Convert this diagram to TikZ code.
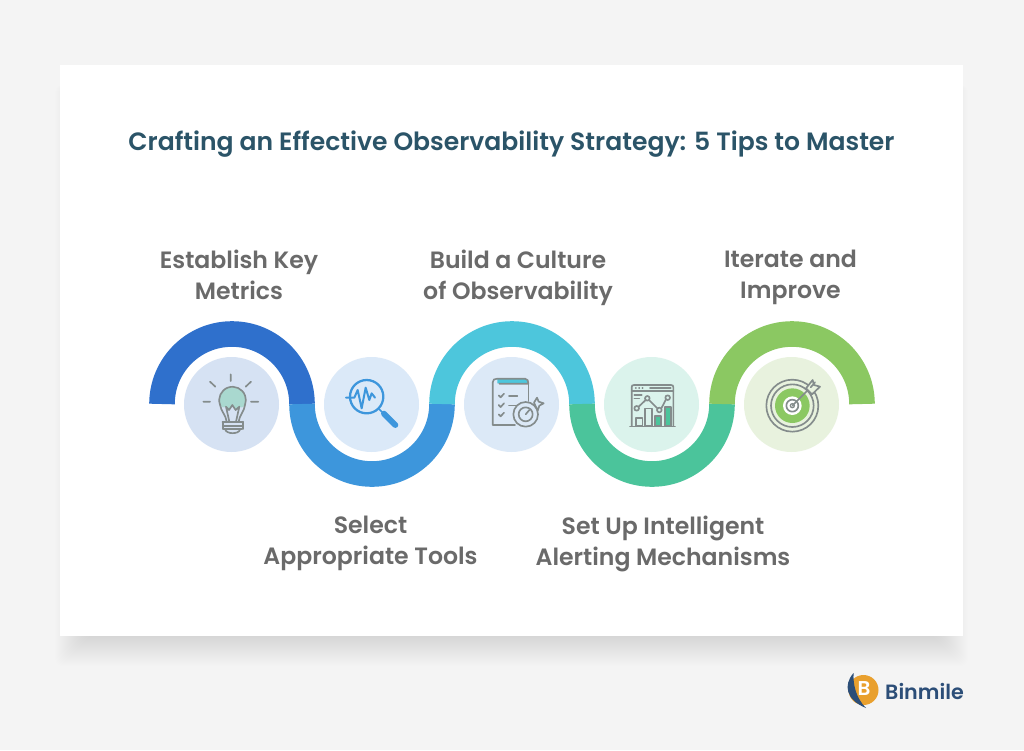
\documentclass[tikz,border=0pt]{standalone}
\usepackage{fontspec}
\setmainfont{Open Sans}
\newfontfamily\titlefont[BoldFont=* SemiBold]{Poppins}
\newfontfamily\labelfont[BoldFont=* SemiBold]{Poppins}
\definecolor{pagebg}{HTML}{F4F4F4}
\definecolor{titlecol}{HTML}{2B5468}
\definecolor{labelcol}{HTML}{6A6A6A}
\definecolor{icongray}{HTML}{848C8C}
\definecolor{aone}{HTML}{2F70CC}
\definecolor{atwo}{HTML}{3D96DC}
\definecolor{athree}{HTML}{4DC6DC}
\definecolor{afour}{HTML}{4BC49B}
\definecolor{afive}{HTML}{8BC862}
\definecolor{cone}{HTML}{D6E2F3}
\definecolor{ctwo}{HTML}{DBE9F8}
\definecolor{cthree}{HTML}{DCE9F7}
\definecolor{cfour}{HTML}{DBF3EC}
\definecolor{cfive}{HTML}{E8F2DE}
\definecolor{logoblue}{HTML}{2C4E78}
\definecolor{logoorange}{HTML}{E9A02E}
\definecolor{bulbteal}{HTML}{A9D8CF}
\tikzset{
  band/.style={line width=19.2pt,line cap=butt},
  disc/.style={circle,minimum size=71.25pt,inner sep=0pt,outer sep=0pt},
  tiptext/.style={font=\labelfont\bfseries\fontsize{17.7pt}{23.25pt}\selectfont,text=labelcol,align=center,inner sep=0pt},
  ico/.style={draw=icongray,line width=1.25pt,line cap=round,line join=round},
  ibl/.style={draw=atwo,line width=1.3pt,line cap=round,line join=round}
}
\begin{document}
\begin{tikzpicture}[x=0.75pt,y=0.75pt]
\useasboundingbox (0,-750) rectangle (1024,0);
\fill[pagebg] (0,-750) rectangle (1024,0);
% shadow
\foreach \k in {0,1,...,30}{
  \fill[black,opacity=0.0045,rounded corners=6pt] (85-\k,-85) rectangle (938+\k,-636-\k);
}
\node[fill=white,minimum width=677.25pt,minimum height=428.25pt,inner sep=0pt,outer sep=0pt,anchor=north west] (card) at (60,-65) {};
\node[font=\titlefont\bfseries\fontsize{18.8pt}{25pt}\selectfont,text=titlecol,inner sep=0pt] (title) at (511.5,-144) {Crafting an Effective Observability Strategy: 5 Tips to Master};
% bands
\draw[band,aone] (162,-404) arc[start angle=180,end angle=0,radius=70];
\draw[band,atwo] (302,-404) arc[start angle=180,end angle=360,radius=70];
\draw[band,athree] (442,-404) arc[start angle=180,end angle=0,radius=70];
\draw[band,afour] (582,-404) arc[start angle=180,end angle=360,radius=70];
\draw[band,afive] (722,-404) arc[start angle=180,end angle=0,radius=70];
% discs
\node[disc,fill=cone] (d1) at (231.5,-404.5) {};
\node[disc,fill=ctwo] (d2) at (371.5,-404.5) {};
\node[disc,fill=cthree] (d3) at (511.5,-404.5) {};
\node[disc,fill=cfour] (d4) at (651.5,-404.5) {};
\node[disc,fill=cfive] (d5) at (791.5,-404.5) {};
% bulb
\begin{scope}[cm={1/3,0,0,-1/3,(180,-355)}]
  \fill[bulbteal] (120,149) arc[start angle=160,end angle=380,radius=40] .. controls (194,155) and (186,160) .. (178,155) -- (167,165) -- (157,150) -- (147,165) -- (138,155) .. controls (130,160) and (122,155) .. (120,149) -- cycle;
  \draw[ico] (140,200) .. controls (138,180) and (123,170) .. (120,149) arc[start angle=160,end angle=380,radius=40] .. controls (193,170) and (178,180) .. (176,200);
  \draw[ico] (148,200) -- (138,155) -- (147,165) -- (157,150) -- (167,165) -- (178,155) -- (168,200);
  \draw[ico,line width=1.4pt] (128,200) -- (188,200) (130,212) -- (186,212) (130,222) -- (186,222);
  \draw[ico] (128,200) -- (128,222) (188,200) -- (188,222);
  \draw[ico] (136,224) .. controls (140,238) and (176,238) .. (180,224);
  \draw[ico] (152,58) -- (152,78) (90,80) -- (106,95) (213,80) -- (197,95) (70,140) -- (90,140) (213,140) -- (235,140);
\end{scope}
% magnifier
\begin{scope}[cm={1/3,0,0,-1/3,(320,-355)}]
  \draw[ibl,line width=1.7pt] (140,125) circle[radius=50];
  \draw[ibl,line width=1.5pt] (78,128) -- (103,128) -- (113,105) -- (125,160) -- (137,98) -- (148,135) -- (155,115) -- (165,128);
  \draw[ibl] (178,163) -- (190,175);
  \draw[atwo,line width=4.4pt,line cap=round] (192,176) -- (226,210);
\end{scope}
% checklist
\begin{scope}[cm={1/3,0,0,-1/3,(460,-355)}]
  \fill[athree] (112,72) -- (200,72) .. controls (205,72) and (205,85) .. (205,85) -- (112,85) -- cycle;
  \draw[ico] (165,210) -- (98,210) -- (98,82) .. controls (98,74) and (104,71) .. (112,71) -- (195,71) .. controls (203,71) and (205,78) .. (205,86) -- (118,86);
  \draw[ico] (205,86) -- (205,138);
  \draw[ico] (116,121) -- (122,127) -- (132,116) (116,150) -- (122,156) -- (132,145) (116,178) -- (122,184) -- (132,173);
  \draw[ico] (147,122) -- (172,122) (147,151) -- (172,151);
  \draw[ico,fill=cthree] (197,178) circle[radius=37];
  \draw[ico] (197,178) circle[radius=21];
  \draw[ico] (197,178) -- (208,165);
  \draw[ico,fill=cthree] (222,143) -- (231,128) -- (236,140) -- (251,145) -- (238,152) -- (233,167) -- cycle;
\end{scope}
% chart
\begin{scope}[cm={1/3,0,0,-1/3,(600,-355)}]
  \draw[ico] (95,213) -- (95,97) .. controls (95,92) and (97,90) .. (102,90) -- (213,90) .. controls (218,90) and (220,92) .. (220,97) -- (220,213);
  \draw[ico] (95,108) -- (220,108);
  \draw[ico] (107,99) -- (108,99) (117,99) -- (118,99) (127,99) -- (128,99) (150,99) -- (212,99);
  \draw[ico] (103,120) -- (125,120) (103,130) -- (118,130);
  \fill[afour] (168,182) rectangle (183,213) (197,155) rectangle (212,213);
  \draw[ico,fill=cfour] (108,188) rectangle (127,213);
  \draw[ico,fill=cfour] (135,160) rectangle (155,213);
  \draw[ico] (165,182) rectangle (183,213);
  \draw[ico] (195,155) rectangle (212,213);
  \draw[ico] (90,214) -- (225,214);
  \draw[ico] (116,155) -- (137,135) (147,135) -- (172,160) (184,160) -- (198,133);
  \draw[ico] (110,160) circle[radius=7] (142,130) circle[radius=7] (178,165) circle[radius=7] (203,128) circle[radius=7];
\end{scope}
% target
\begin{scope}[cm={1/3,0,0,-1/3,(740,-355)}]
  \draw[ico] (157,152) circle[radius=78];
  \draw[ico] (157,152) circle[radius=64];
  \fill[afive] (157,152) circle[radius=52];
  \fill[white] (157,152) circle[radius=28];
  \draw[ico] (157,152) circle[radius=18];
  \fill[white,draw=icongray,line width=1pt] (157,152) circle[radius=6];
  \draw[ico] (157,152) -- (212,97);
  \draw[ico,fill=cfive] (198,100) -- (218,75) -- (222,90) -- (240,95) -- (216,118) -- cycle;
  \draw[ico] (212,97) -- (225,82);
\end{scope}
% labels
\node[tiptext] (t1) at (239,-275) {Establish Key\\Metrics};
\node[tiptext] (t2) at (370.5,-543.5) {Select\\Appropriate Tools};
\node[tiptext] (t3) at (518,-277.5) {Build a Culture\\of Observability};
\node[tiptext] (t4) at (663,-543.5) {Set Up Intelligent\\Alerting Mechanisms};
\node[tiptext] (t5) at (790.5,-277.5) {Iterate and\\Improve};
% logo
\fill[logoorange] (863.5,-690) circle[radius=15];
\fill[logoblue] (853.5,-673) .. controls (843,-685) and (846,-700) .. (866,-708) .. controls (856,-698) and (853,-685) .. (853.5,-673) -- cycle;
\node[font=\titlefont\bfseries\fontsize{15pt}{16pt}\selectfont,text=white,inner sep=0pt] (lb) at (864,-689) {B};
\node[font=\titlefont\bfseries\fontsize{15.5pt}{20pt}\selectfont,text=logoblue,inner sep=0pt] (brand) at (924.5,-691) {Binmile};
\end{tikzpicture}
\end{document}
